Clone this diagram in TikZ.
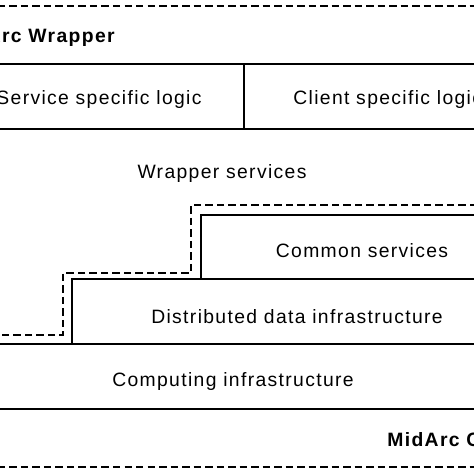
\documentclass[tikz,border=0pt]{standalone}
\usepackage{fontspec}
\setmainfont{Liberation Sans}[LetterSpace=7]
\usepackage{tikz}

\tikzset{
  layer/.style={draw=black, line width=0.9pt},
  region/.style={draw=black, line width=0.9pt, dash pattern=on 0.15cm off 0.08cm},
  label/.style={inner sep=0pt, font=\fontsize{11}{13}\selectfont},
  title/.style={inner sep=0pt, font=\fontsize{11}{13}\selectfont\bfseries}
}

\begin{document}
\begin{tikzpicture}
\useasboundingbox (0,0) rectangle (9.48,-9.48);
\clip (0,0) rectangle (9.48,-9.48);
\draw [region] (-0.5,-0.12) -- (10,-0.12);
\draw [region] (10,-4.10) -- (3.82,-4.10) -- (3.82,-5.46) -- (1.26,-5.46) -- (1.26,-6.70) -- (-0.5,-6.70);
\draw [region] (-0.5,-9.34) -- (10,-9.34);
\draw [layer] (-0.5,-1.28) rectangle (4.88,-2.58);
\draw [layer] (4.88,-1.28) rectangle (10,-2.58);
\draw [layer] (4.02,-4.30) rectangle (10,-5.58);
\draw [layer] (1.44,-5.58) rectangle (10,-6.88);
\draw [layer] (-0.5,-6.88) rectangle (10,-8.18);
\node [title, anchor=east] (wrapper) at (2.30,-0.76) {MidArc Wrapper};
\node [label] (service) at (1.98,-2.00) {Service specific logic};
\node [label, anchor=west] (client) at (5.86,-2.00) {Client specific logic};
\node [label] (wrapserv) at (4.44,-3.48) {Wrapper services};
\node [label] (common) at (7.24,-5.02) {Common services};
\node [label] (distrib) at (5.94,-6.34) {Distributed data infrastructure};
\node [label] (computing) at (4.66,-7.62) {Computing infrastructure};
\node [title, anchor=west] (core) at (7.74,-8.80) {MidArc Core};
\end{tikzpicture}
\end{document}
